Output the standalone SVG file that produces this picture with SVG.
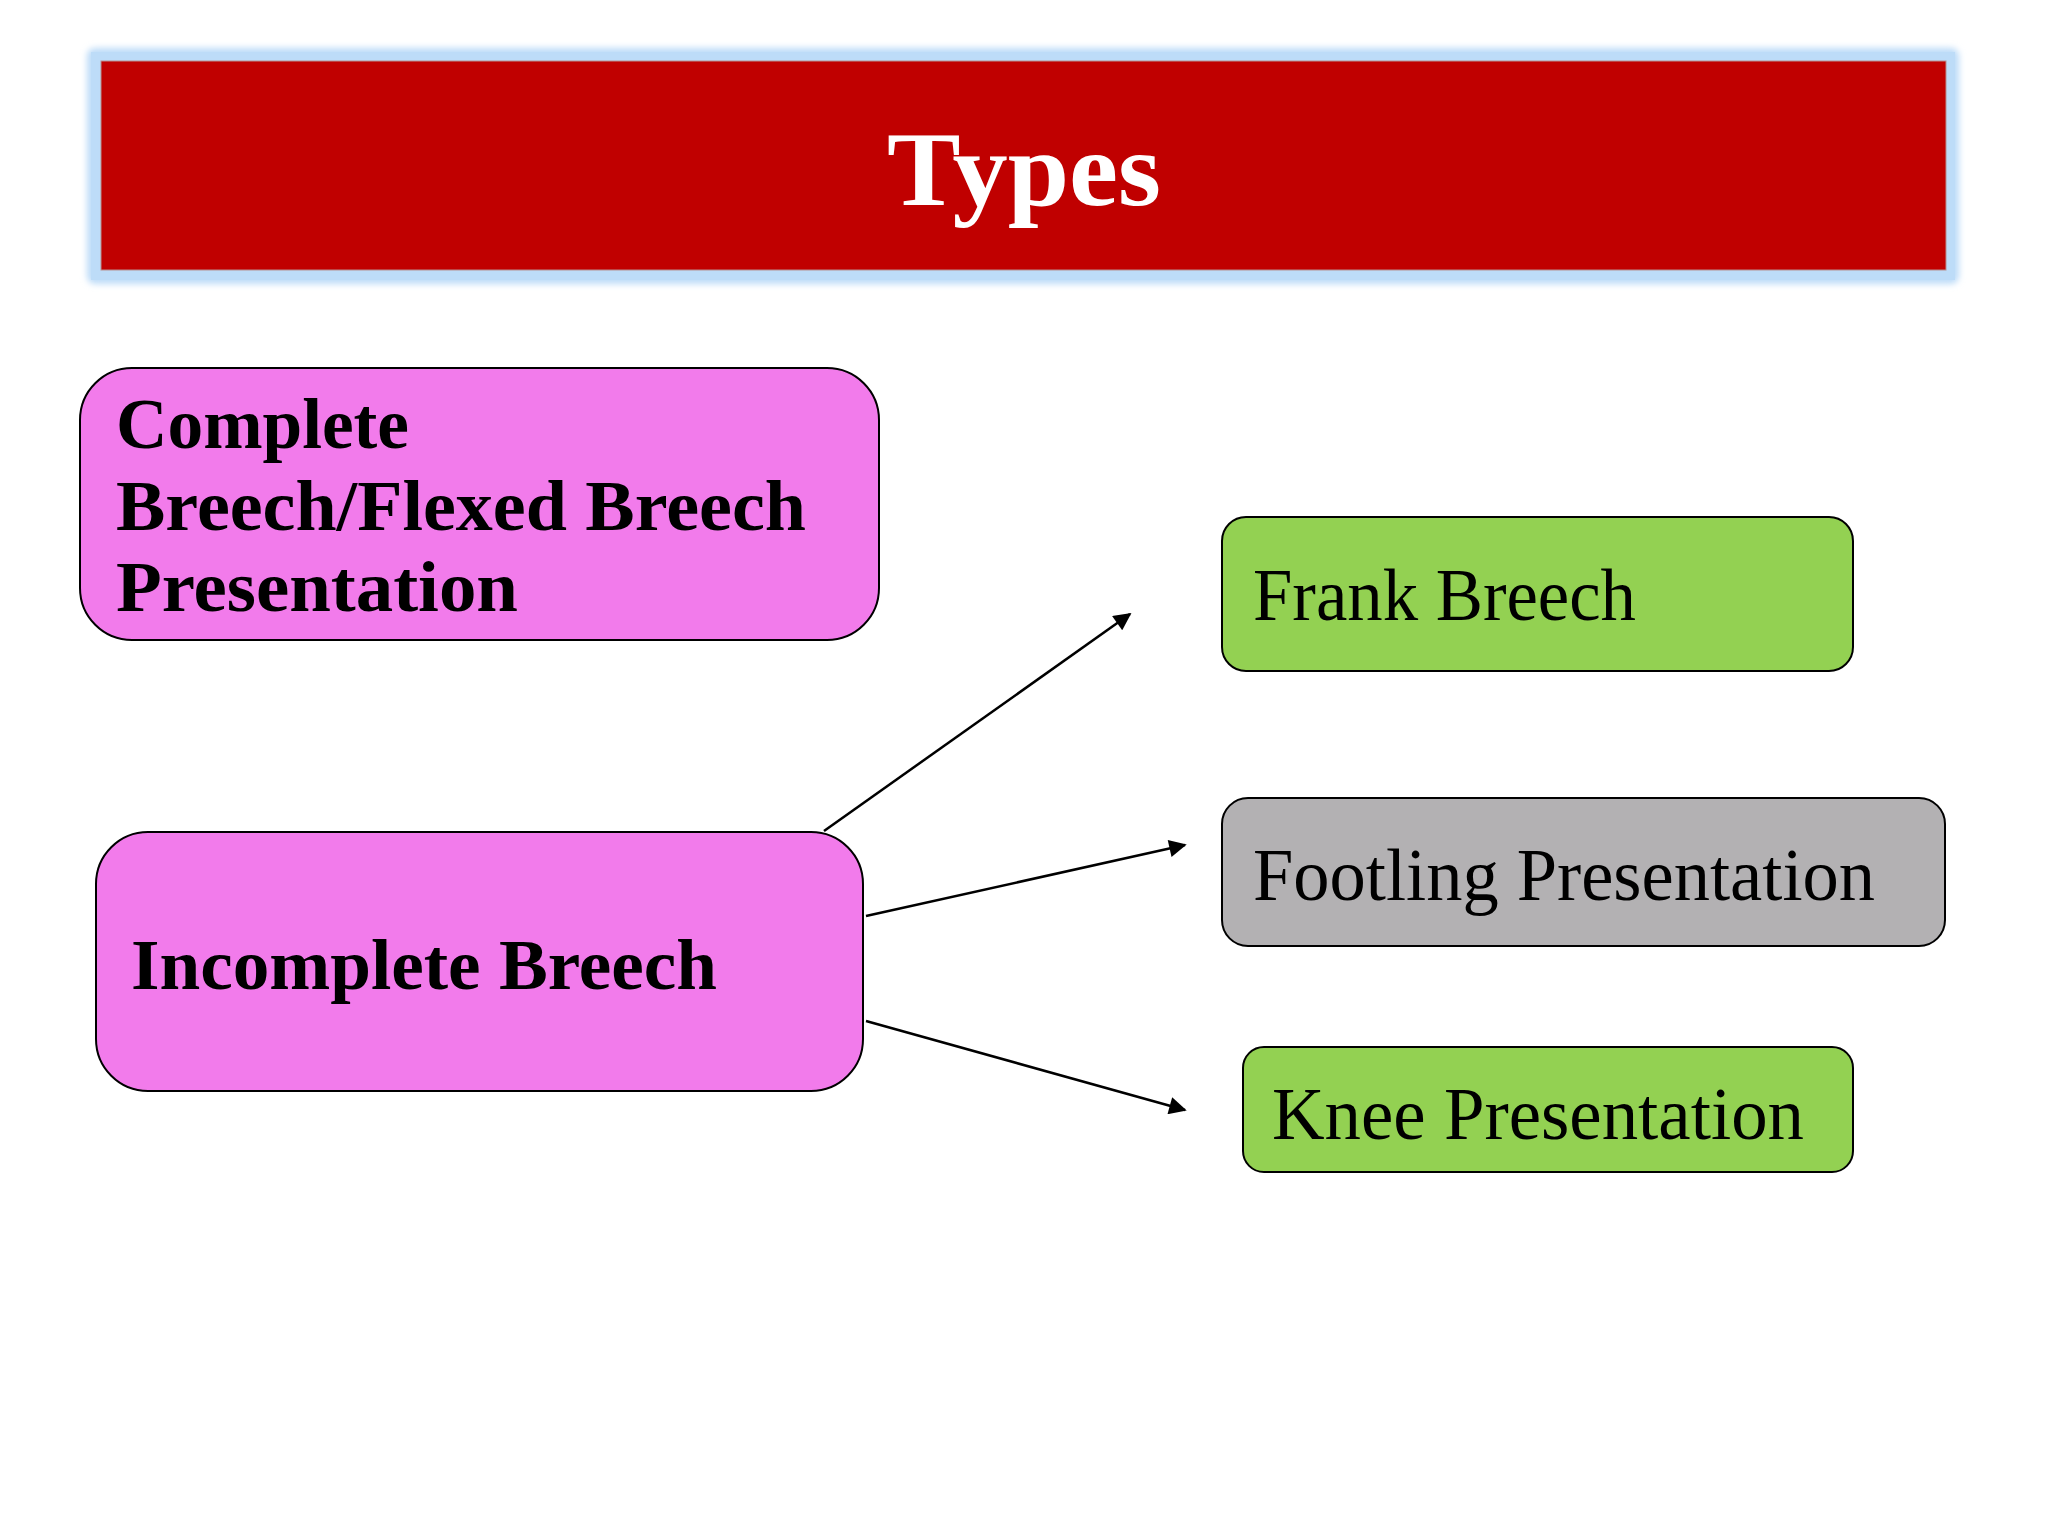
<svg xmlns="http://www.w3.org/2000/svg" width="2048" height="1536" viewBox="0 0 2048 1536">
<defs>
<style>
.box{stroke:#000;stroke-width:2}
.pink{fill:#F27BEB}
.green{fill:#93D152}
.gray{fill:#B3B1B3}
.bold{font-family:"Liberation Serif",serif;font-weight:bold;font-size:72px;fill:#000}
.reg{font-family:"Liberation Serif",serif;font-size:74px;fill:#000}
.conn{stroke:#000;stroke-width:2.5;fill:none;marker-end:url(#arr)}
</style>
<marker id="arr" viewBox="0 0 10 10" refX="9" refY="5" markerWidth="8" markerHeight="7" orient="auto" markerUnits="strokeWidth">
<path d="M0,0 L10,5 L0,10 z" fill="#000"/>
</marker>
<filter id="glow" x="-5%" y="-20%" width="110%" height="140%">
<feGaussianBlur stdDeviation="3"/>
</filter>
</defs>
<rect width="2048" height="1536" fill="#FFFFFF"/>
<g id="title">
<rect x="87" y="48" width="1872" height="236" rx="8" fill="#BDDCF8" filter="url(#glow)"/>
<rect x="91" y="52" width="1864" height="228" fill="#BDDCF8"/>
<rect x="101" y="61" width="1845" height="209" fill="#C00000" stroke="#B89090" stroke-width="1"/>
<text x="1024" y="205" text-anchor="middle" font-family="Liberation Serif, serif" font-weight="bold" font-size="106" fill="#FFFFFF" textLength="274" lengthAdjust="spacingAndGlyphs">Types</text>
</g>
<g id="connectors">
<line class="conn" x1="824" y1="831" x2="1130" y2="614"/>
<line class="conn" x1="866" y1="916" x2="1185" y2="845"/>
<line class="conn" x1="866" y1="1021" x2="1185" y2="1110"/>
</g>
<g id="complete">
<rect class="box pink" x="80" y="368" width="799" height="272" rx="52"/>
<text class="bold" x="116" y="448" textLength="293" lengthAdjust="spacingAndGlyphs">Complete</text>
<text class="bold" x="116" y="530" textLength="690" lengthAdjust="spacingAndGlyphs">Breech/Flexed Breech</text>
<text class="bold" x="116" y="611" textLength="402" lengthAdjust="spacingAndGlyphs">Presentation</text>
</g>
<g id="incomplete">
<rect class="box pink" x="96" y="832" width="767" height="259" rx="52"/>
<text class="bold" x="131" y="989" textLength="586" lengthAdjust="spacingAndGlyphs">Incomplete Breech</text>
</g>
<g id="frank">
<rect class="box green" x="1222" y="517" width="631" height="154" rx="24"/>
<text class="reg" x="1253" y="620" textLength="383" lengthAdjust="spacingAndGlyphs">Frank Breech</text>
</g>
<g id="footling">
<rect class="box gray" x="1222" y="798" width="723" height="148" rx="26"/>
<text class="reg" x="1253" y="900" textLength="622" lengthAdjust="spacingAndGlyphs">Footling Presentation</text>
</g>
<g id="knee">
<rect class="box green" x="1243" y="1047" width="610" height="125" rx="21"/>
<text class="reg" x="1272" y="1139" textLength="532" lengthAdjust="spacingAndGlyphs">Knee Presentation</text>
</g>
</svg>
